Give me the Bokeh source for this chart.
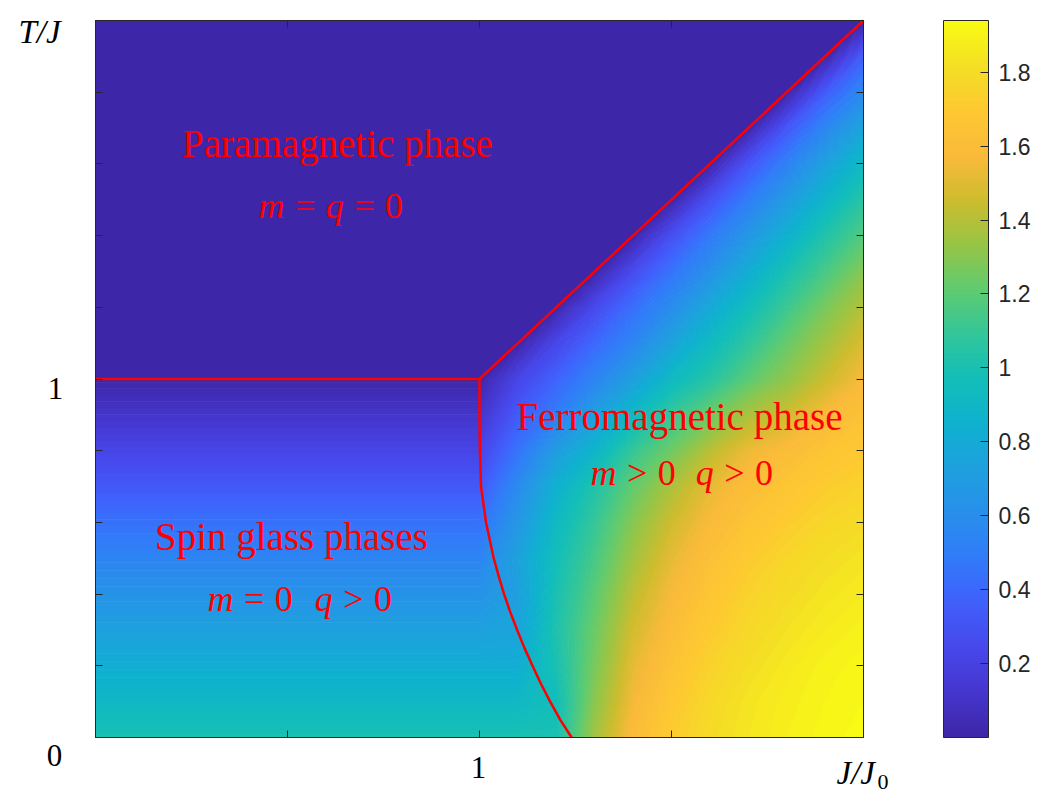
import numpy as np
from bokeh.plotting import figure
from bokeh.models import (LinearColorMapper, ColorBar, FixedTicker, Label,
                          LinearAxis, CustomJSTickFormatter, Range1d)
from bokeh.embed import file_html
from bokeh.resources import INLINE

# ---------------- data ----------------
J0_NODES = [0.0, 0.1, 0.2, 0.3, 0.4, 0.5, 0.6, 0.7, 0.8, 0.9, 1.0,
            1.1, 1.2, 1.3, 1.4, 1.5, 1.6, 1.7, 1.8, 1.9, 2.0]
T_NODES = [0.0, 0.1, 0.2, 0.3, 0.4, 0.5, 0.6, 0.7, 0.8, 0.9, 1.0,
           1.1, 1.2, 1.3, 1.4, 1.5, 1.6, 1.7, 1.8, 1.9, 2.0]

# colour value (m + q) on the grid; one row per T node, columns follow J0_NODES
M_PLUS_Q = [
    [1.00, 1.00, 1.00, 1.00, 1.00, 1.00, 1.00, 1.00, 1.00, 1.00, 1.00, 1.00, 1.00, 1.36, 1.60, 1.72, 1.80, 1.85, 1.89, 1.92, 1.94],
    [0.91, 0.91, 0.91, 0.91, 0.91, 0.91, 0.91, 0.91, 0.91, 0.91, 0.91, 0.91, 0.96, 1.31, 1.56, 1.69, 1.78, 1.84, 1.88, 1.91, 1.93],
    [0.82, 0.82, 0.82, 0.82, 0.82, 0.82, 0.82, 0.82, 0.82, 0.82, 0.82, 0.82, 1.00, 1.27, 1.52, 1.65, 1.75, 1.81, 1.86, 1.90, 1.92],
    [0.73, 0.73, 0.73, 0.73, 0.73, 0.73, 0.73, 0.73, 0.73, 0.73, 0.73, 0.75, 1.02, 1.24, 1.47, 1.61, 1.71, 1.78, 1.83, 1.87, 1.90],
    [0.63, 0.63, 0.63, 0.63, 0.63, 0.63, 0.63, 0.63, 0.63, 0.63, 0.63, 0.72, 1.00, 1.20, 1.42, 1.57, 1.67, 1.75, 1.80, 1.84, 1.87],
    [0.54, 0.54, 0.54, 0.54, 0.54, 0.54, 0.54, 0.54, 0.54, 0.54, 0.54, 0.74, 0.97, 1.15, 1.36, 1.52, 1.63, 1.71, 1.77, 1.81, 1.84],
    [0.44, 0.44, 0.44, 0.44, 0.44, 0.44, 0.44, 0.44, 0.44, 0.44, 0.44, 0.66, 0.92, 1.10, 1.30, 1.46, 1.58, 1.66, 1.72, 1.77, 1.80],
    [0.33, 0.33, 0.33, 0.33, 0.33, 0.33, 0.33, 0.33, 0.33, 0.33, 0.33, 0.58, 0.85, 1.03, 1.22, 1.38, 1.52, 1.61, 1.67, 1.72, 1.75],
    [0.22, 0.22, 0.22, 0.22, 0.22, 0.22, 0.22, 0.22, 0.22, 0.22, 0.22, 0.45, 0.70, 0.88, 1.10, 1.25, 1.41, 1.54, 1.60, 1.66, 1.70],
    [0.11, 0.11, 0.11, 0.11, 0.11, 0.11, 0.11, 0.11, 0.11, 0.11, 0.11, 0.34, 0.50, 0.72, 0.92, 1.10, 1.24, 1.38, 1.46, 1.58, 1.64],
    [0.00, 0.00, 0.00, 0.00, 0.00, 0.00, 0.00, 0.00, 0.00, 0.00, 0.00, 0.22, 0.38, 0.54, 0.72, 0.92, 1.05, 1.20, 1.32, 1.45, 1.57],
    [0.00, 0.00, 0.00, 0.00, 0.00, 0.00, 0.00, 0.00, 0.00, 0.00, 0.00, 0.00, 0.23, 0.40, 0.55, 0.75, 0.93, 1.08, 1.23, 1.36, 1.49],
    [0.00, 0.00, 0.00, 0.00, 0.00, 0.00, 0.00, 0.00, 0.00, 0.00, 0.00, 0.00, 0.00, 0.25, 0.43, 0.59, 0.79, 0.96, 1.12, 1.27, 1.40],
    [0.00, 0.00, 0.00, 0.00, 0.00, 0.00, 0.00, 0.00, 0.00, 0.00, 0.00, 0.00, 0.00, 0.00, 0.26, 0.45, 0.62, 0.82, 1.00, 1.15, 1.30],
    [0.00, 0.00, 0.00, 0.00, 0.00, 0.00, 0.00, 0.00, 0.00, 0.00, 0.00, 0.00, 0.00, 0.00, 0.00, 0.28, 0.48, 0.66, 0.85, 1.03, 1.18],
    [0.00, 0.00, 0.00, 0.00, 0.00, 0.00, 0.00, 0.00, 0.00, 0.00, 0.00, 0.00, 0.00, 0.00, 0.00, 0.00, 0.29, 0.50, 0.69, 0.89, 1.06],
    [0.00, 0.00, 0.00, 0.00, 0.00, 0.00, 0.00, 0.00, 0.00, 0.00, 0.00, 0.00, 0.00, 0.00, 0.00, 0.00, 0.00, 0.31, 0.52, 0.73, 0.92],
    [0.00, 0.00, 0.00, 0.00, 0.00, 0.00, 0.00, 0.00, 0.00, 0.00, 0.00, 0.00, 0.00, 0.00, 0.00, 0.00, 0.00, 0.00, 0.32, 0.55, 0.76],
    [0.00, 0.00, 0.00, 0.00, 0.00, 0.00, 0.00, 0.00, 0.00, 0.00, 0.00, 0.00, 0.00, 0.00, 0.00, 0.00, 0.00, 0.00, 0.00, 0.34, 0.57],
    [0.00, 0.00, 0.00, 0.00, 0.00, 0.00, 0.00, 0.00, 0.00, 0.00, 0.00, 0.00, 0.00, 0.00, 0.00, 0.00, 0.00, 0.00, 0.00, 0.00, 0.35],
    [0.00, 0.00, 0.00, 0.00, 0.00, 0.00, 0.00, 0.00, 0.00, 0.00, 0.00, 0.00, 0.00, 0.00, 0.00, 0.00, 0.00, 0.00, 0.00, 0.00, 0.00],
]

# phase boundaries
PM_SG_J0 = [0.0, 1.0]
PM_SG_T = [1.0, 1.0]
PM_F_J0 = [1.0, 2.0]
PM_F_T = [1.0, 2.0]
SG_F_J0 = [1.000, 1.000, 1.001, 1.004, 1.017, 1.037, 1.050, 1.064, 1.080, 1.098, 1.117, 1.138, 1.160, 1.184, 1.210, 1.240]
SG_F_T = [1.00, 0.90, 0.80, 0.70, 0.60, 0.50, 0.45, 0.40, 0.35, 0.30, 0.25, 0.20, 0.15, 0.10, 0.05, 0.00]

X_TICKS = [0.0, 0.5, 1.0, 1.5, 2.0]
Y_TICKS = [0.0, 0.2, 0.4, 0.6, 0.8, 1.0, 1.2, 1.4, 1.6, 1.8, 2.0]
CBAR_TICKS = [0.2, 0.4, 0.6, 0.8, 1.0, 1.2, 1.4, 1.6, 1.8]
CBAR_LOW = 0.0
CBAR_HIGH = 1.94

# ---------------- colour map (parula-like) ----------------
PARULA_ANCHORS = [
    (0.000, (62, 38, 168)),
    (0.0625, (69, 54, 206)),
    (0.125, (71, 72, 236)),
    (0.1875, (64, 96, 252)),
    (0.250, (49, 123, 249)),
    (0.3125, (40, 143, 235)),
    (0.375, (30, 160, 222)),
    (0.4375, (15, 177, 207)),
    (0.500, (18, 190, 185)),
    (0.5625, (50, 198, 154)),
    (0.625, (95, 203, 112)),
    (0.6875, (150, 197, 70)),
    (0.750, (205, 188, 46)),
    (0.8125, (250, 186, 58)),
    (0.875, (254, 200, 50)),
    (0.9375, (244, 223, 36)),
    (1.000, (249, 251, 20)),
]
_fa = [a[0] for a in PARULA_ANCHORS]


def cmap(frac):
    frac = np.clip(np.asarray(frac, dtype=float), 0, 1)
    ch = [np.interp(frac, _fa, [a[1][k] for a in PARULA_ANCHORS]) for k in range(3)]
    return ["#%02x%02x%02x" % (int(round(r)), int(round(g)), int(round(b)))
            for r, g, b in zip(*[np.atleast_1d(c) for c in ch])]


PALETTE = cmap(np.linspace(0, 1, 256))
mapper = LinearColorMapper(palette=PALETTE, low=CBAR_LOW, high=CBAR_HIGH)

# ---------------- geometry (pixels of the 1050x795 canvas) ----------------
W, H = 1050, 795
FX0, FX1, FY0, FY1 = 95, 863, 20, 737          # plot box in pixels
SX = (FX1 - FX0) / 2.0
SY = (FY1 - FY0) / 2.0
x_lo = -FX0 / SX
x_hi = x_lo + W / SX
y_hi = 2.0 + FY0 / SY
y_lo = y_hi - H / SY


def dx(px):
    return (px - FX0) / SX


def dy(py):
    return (FY1 - py) / SY


p = figure(width=W, height=H, x_range=Range1d(x_lo, x_hi), y_range=Range1d(y_lo, y_hi),
           output_backend="svg", toolbar_location=None,
           x_axis_location=None, y_axis_location=None,
           min_border_left=0, min_border_right=0, min_border_top=0, min_border_bottom=0,
           background_fill_color="white", border_fill_color="white")
p.grid.visible = False
p.outline_line_color = None

# filled field
levels = np.linspace(-0.01, 1.95, 99)
mids = 0.5 * (levels[:-1] + levels[1:])
fill_cols = cmap((mids - CBAR_LOW) / (CBAR_HIGH - CBAR_LOW))
line_cols = cmap((levels - CBAR_LOW) / (CBAR_HIGH - CBAR_LOW))
p.contour(x=J0_NODES, y=T_NODES, z=np.array(M_PLUS_Q), levels=levels,
          fill_color=fill_cols, line_color=line_cols, line_width=1.2)

RED = "#ff0000"
p.line(PM_SG_J0, PM_SG_T, line_color=RED, line_width=2.5)
p.line(PM_F_J0, PM_F_T, line_color=RED, line_width=2.5)
p.line(SG_F_J0, SG_F_T, line_color=RED, line_width=2.5, line_join="round")

# box axes (ticks pointing inwards on all four sides)
blank = CustomJSTickFormatter(code="return ''")
for side, loc, ticks in [("below", 0.0, X_TICKS), ("above", 2.0, X_TICKS),
                         ("left", 0.0, Y_TICKS), ("right", 2.0, Y_TICKS)]:
    ax = LinearAxis(fixed_location=loc, bounds=(0.0, 2.0),
                    ticker=FixedTicker(ticks=ticks), formatter=blank,
                    major_tick_in=7, major_tick_out=0,
                    minor_tick_line_color=None,
                    major_tick_line_color="#262626", axis_line_color="#262626",
                    axis_line_width=1, major_label_text_font_size="0px",
                    major_label_standoff=0)
    p.add_layout(ax, side)

# colour bar
cb = ColorBar(color_mapper=mapper, ticker=FixedTicker(ticks=CBAR_TICKS),
              formatter=CustomJSTickFormatter(code="return String(Math.round(tick*10)/10)"),
              width=45, height=FY1 - FY0, location=(943, H - FY1), padding=0, margin=0,
              bar_line_color="#262626", bar_line_width=1,
              major_tick_in=8, major_tick_out=0, major_tick_line_color="#262626",
              minor_tick_line_color=None, label_standoff=10,
              major_label_text_font="Liberation Sans", major_label_text_font_size="23px",
              major_label_text_color="#262626",
              background_fill_color=None, border_line_color=None)
p.add_layout(cb)

SERIF = "Liberation Serif"


def add_label(px, py, text, size, color="black", style="normal", align="center"):
    p.add_layout(Label(x=dx(px), y=dy(py), text=text, text_font=SERIF,
                       text_font_size="%gpx" % size, text_font_style=style,
                       text_color=color, text_align=align, text_baseline="middle"))


# math line made of italic symbols and upright relations/digits
EM = {"m": 0.722, "q": 0.5, "=": 0.564, ">": 0.564, "0": 0.5}


def add_math(px_left, py, tokens, size, gap, wide_gap):
    x = px_left
    for tok in tokens:
        if tok == "|":
            x += wide_gap - gap
            continue
        style = "italic" if tok in ("m", "q") else "normal"
        add_label(x, py, tok, size, RED, style, "left")
        x += EM[tok] * size + gap


# phase labels (px, py = centre of the text line)
add_label(337, 143, "Paramagnetic phase", 39, RED)
add_math(258, 205, ["m", "=", "q", "=", "0"], 36, 10.5, 10.5)
add_label(291, 536, "Spin glass phases", 39, RED)
add_math(207, 598, ["m", "=", "0", "|", "q", ">", "0"], 36, 10.5, 22)
add_label(679, 416, "Ferromagnetic phase", 39, RED)
add_math(590, 472, ["m", ">", "0", "|", "q", ">", "0"], 36, 10.5, 20)

# axis texts
add_label(478, 767, "1", 31)
add_label(55, 388, "1", 31)
add_label(54, 755, "0", 31)
add_label(18, 31, "T/J", 33, style="italic", align="left")
add_label(836, 772, "J/J", 33, style="italic", align="left")
add_label(877, 781, "0", 22, align="left")

open("out.html", "w").write(file_html(p, INLINE))
